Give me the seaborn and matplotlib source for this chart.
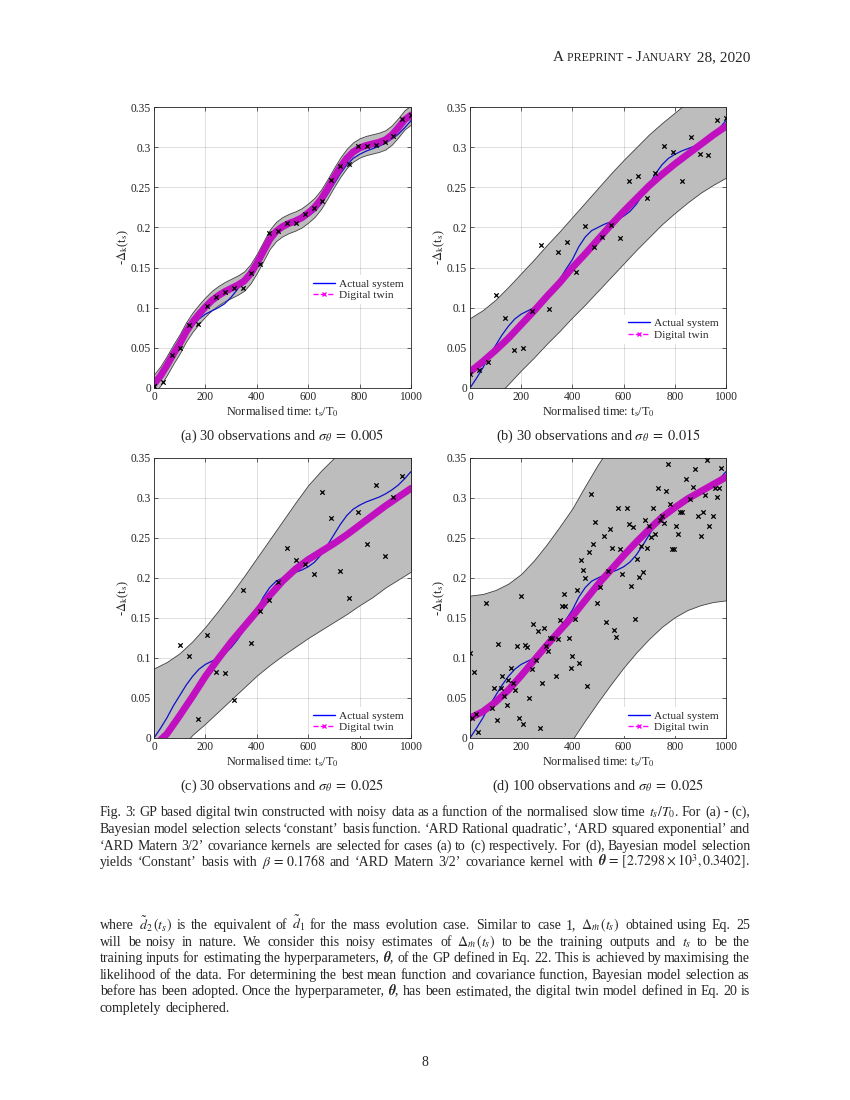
import matplotlib
matplotlib.use("Agg")
import matplotlib.pyplot as plt
import numpy as np
import seaborn as sns
from matplotlib.lines import Line2D

# ── data ──────────────────────────────────────────────
T_FINE = list(range(0, 1001, 25))
T_COARSE = list(range(0, 1001, 50))

ACTUAL = [0.000, 0.012, 0.025, 0.040, 0.053, 0.066, 0.077, 0.086, 0.092, 0.096,
          0.100, 0.105, 0.113, 0.123, 0.135, 0.148, 0.160, 0.176, 0.188, 0.196,
          0.200, 0.204, 0.207, 0.210, 0.214, 0.220, 0.229, 0.241, 0.254, 0.267,
          0.278, 0.286, 0.291, 0.295, 0.298, 0.301, 0.305, 0.310, 0.316, 0.324, 0.333]

TWIN_A = [0.005, 0.015, 0.028, 0.042, 0.055, 0.070, 0.082, 0.092, 0.101, 0.109,
          0.115, 0.120, 0.124, 0.128, 0.133, 0.142, 0.155, 0.170, 0.185, 0.195,
          0.201, 0.205, 0.208, 0.212, 0.218, 0.225, 0.235, 0.248, 0.262, 0.275,
          0.286, 0.294, 0.299, 0.302, 0.304, 0.306, 0.309, 0.315, 0.324, 0.334, 0.340]
BAND_A_HALF = 0.012

TWIN_B = [0.020, 0.033, 0.047, 0.062, 0.079, 0.096, 0.114, 0.131, 0.150, 0.167, 0.185,
          0.203, 0.220, 0.236, 0.252, 0.266, 0.279, 0.291, 0.303, 0.315, 0.326]
UPPER_B = [0.087, 0.097, 0.110, 0.126, 0.143, 0.160, 0.178, 0.195, 0.213, 0.231, 0.249,
           0.267, 0.284, 0.300, 0.316, 0.330, 0.343, 0.356, 0.368, 0.379, 0.390]
LOWER_B = [-0.045, -0.029, -0.012, 0.005, 0.022, 0.038, 0.055, 0.071, 0.088, 0.104, 0.121,
           0.138, 0.155, 0.172, 0.188, 0.204, 0.218, 0.231, 0.243, 0.253, 0.262]

TWIN_C = [-0.010, 0.005, 0.028, 0.052, 0.077, 0.099, 0.120, 0.139, 0.158, 0.178, 0.196,
          0.211, 0.223, 0.233, 0.243, 0.254, 0.266, 0.278, 0.290, 0.301, 0.312]
UPPER_C = [0.087, 0.095, 0.106, 0.121, 0.139, 0.159, 0.180, 0.202, 0.225, 0.248, 0.271,
           0.294, 0.316, 0.334, 0.350, 0.364, 0.377, 0.389, 0.399, 0.408, 0.415]
LOWER_C = [-0.060, -0.035, -0.013, 0.004, 0.018, 0.033, 0.048, 0.063, 0.078, 0.091, 0.103,
           0.114, 0.125, 0.135, 0.145, 0.155, 0.166, 0.176, 0.188, 0.198, 0.208]

TWIN_D = [0.025, 0.033, 0.045, 0.060, 0.078, 0.097, 0.116, 0.134, 0.152, 0.172, 0.192,
          0.210, 0.228, 0.245, 0.261, 0.276, 0.288, 0.299, 0.308, 0.317, 0.326]
UPPER_D = [0.178, 0.180, 0.185, 0.193, 0.205, 0.222, 0.242, 0.264, 0.287, 0.315, 0.342,
           0.366, 0.386, 0.402, 0.417, 0.430, 0.442, 0.452, 0.461, 0.469, 0.476]
LOWER_D = [-0.130, -0.128, -0.122, -0.110, -0.093, -0.072, -0.050, -0.026, -0.002, 0.022, 0.045,
           0.067, 0.088, 0.107, 0.124, 0.139, 0.151, 0.160, 0.166, 0.170, 0.172]

OBS_T30 = [0, 34, 69, 103, 138, 172, 207, 241, 276, 310, 345, 379, 414, 448, 483,
           517, 552, 586, 621, 655, 690, 724, 759, 793, 828, 862, 897, 931, 966, 1000]
OBS_A = [0.003, 0.008, 0.041, 0.050, 0.079, 0.080, 0.102, 0.113, 0.120, 0.125,
         0.125, 0.143, 0.154, 0.193, 0.196, 0.206, 0.206, 0.217, 0.224, 0.233,
         0.259, 0.276, 0.279, 0.301, 0.302, 0.303, 0.307, 0.314, 0.335, 0.340]
OBS_B = [0.018, 0.022, 0.033, 0.116, 0.087, 0.047, 0.050, 0.096, 0.178, 0.098,
         0.169, 0.182, 0.145, 0.202, 0.176, 0.188, 0.203, 0.187, 0.258, 0.264,
         0.237, 0.268, 0.302, 0.294, 0.258, 0.313, 0.291, 0.290, 0.334, 0.336]
OBS_C_T = OBS_T30[3:29]
OBS_C = [0.116, 0.103, 0.024, 0.129, 0.082, 0.081, 0.047, 0.185, 0.119, 0.159,
         0.172, 0.195, 0.237, 0.223, 0.217, 0.205, 0.307, 0.275, 0.209, 0.175,
         0.282, 0.242, 0.316, 0.228, 0.301, 0.328]

OBS_D_T = [0, 9, 16, 23, 33, 62, 85, 95, 104, 111, 120, 126, 134, 143, 150, 159, 167, 176,
           182, 191, 199, 208, 215, 224, 230, 241, 247, 257, 264, 272, 280, 288, 296, 305,
           312, 322, 337, 344, 353, 361, 368, 371, 385, 393, 400, 410, 418, 426, 434, 440,
           449, 458, 466, 474, 482, 490, 497, 507, 522, 531, 539, 547, 555, 563, 572, 579,
           587, 595, 612, 620, 628, 635, 645, 652, 660, 669, 677, 685, 693, 700, 708, 716,
           724, 733, 741, 750, 758, 767, 773, 781, 789, 797, 805, 812, 822, 828, 844, 859,
           870, 878, 892, 901, 909, 917, 927, 935, 949, 957, 966, 974, 982]
OBS_D = [0.106, 0.025, 0.082, 0.030, 0.007, 0.169, 0.038, 0.063, 0.022, 0.118, 0.063, 0.077,
         0.052, 0.041, 0.073, 0.088, 0.069, 0.060, 0.115, 0.025, 0.178, 0.018, 0.116, 0.114,
         0.050, 0.086, 0.143, 0.098, 0.134, 0.013, 0.069, 0.137, 0.115, 0.109, 0.125, 0.125,
         0.077, 0.124, 0.147, 0.165, 0.180, 0.165, 0.125, 0.087, 0.102, 0.149, 0.185, 0.094,
         0.223, 0.210, 0.200, 0.065, 0.233, 0.305, 0.242, 0.270, 0.169, 0.189, 0.252, 0.145,
         0.209, 0.261, 0.238, 0.135, 0.126, 0.287, 0.236, 0.205, 0.287, 0.267, 0.190, 0.264,
         0.149, 0.224, 0.201, 0.240, 0.208, 0.273, 0.237, 0.265, 0.251, 0.287, 0.255, 0.312,
         0.273, 0.277, 0.269, 0.309, 0.343, 0.293, 0.236, 0.236, 0.265, 0.255, 0.282, 0.282,
         0.324, 0.299, 0.314, 0.336, 0.277, 0.252, 0.282, 0.304, 0.347, 0.265, 0.278, 0.313,
         0.301, 0.313, 0.337]

X_TICKS = [0, 200, 400, 600, 800, 1000]
Y_TICKS = [0, 0.05, 0.1, 0.15, 0.2, 0.25, 0.3, 0.35]
Y_TICK_LABELS = ["0", "0.05", "0.1", "0.15", "0.2", "0.25", "0.3", "0.35"]
SUBCAPTIONS = [r"(a) 30 observations and $\sigma_\theta\;=\;0.005$",
               r"(b) 30 observations and $\sigma_\theta\;=\;0.015$",
               r"(c) 30 observations and $\sigma_\theta\;=\;0.025$",
               r"(d) 100 observations and $\sigma_\theta\;=\;0.025$"]

CAPTION = [
    r"Fig. 3: GP based digital twin constructed with noisy data as a function of the normalised slow time $t_s/T_0$. For (a) - (c),",
    "Bayesian model selection selects ‘constant’ basis function. ‘ARD Rational quadratic’, ‘ARD squared exponential’ and",
    "‘ARD Matern 3/2’ covariance kernels are selected for cases (a) to (c) respectively. For (d), Bayesian model selection",
    "yields ‘Constant’ basis with $\\beta\\,=\\,0.1768$ and ‘ARD Matern 3/2’ covariance kernel with "
    "$\\boldsymbol{\\theta}\\,=\\,[2.7298\\times10^3,0.3402]$.",
]
BODY = [
    r"where $\tilde{d}_2\,(t_s)$ is the equivalent of $\tilde{d}_1$ for the mass evolution case. Similar to case 1, $\Delta_{\dot{m}}\,(t_s)$ obtained using Eq. 25",
    r"will be noisy in nature. We consider this noisy estimates of $\Delta_{\dot{m}}\,(t_s)$ to be the training outputs and $t_s$ to be the",
    r"training inputs for estimating the hyperparameters, $\boldsymbol{\theta}$, of the GP defined in Eq. 22. This is achieved by maximising the",
    "likelihood of the data. For determining the best mean function and covariance function, Bayesian model selection as",
    r"before has been adopted. Once the hyperparameter, $\boldsymbol{\theta}$, has been estimated, the digital twin model defined in Eq. 20 is",
    "completely deciphered.",
]
CAPTION_Y = [816, 833, 850, 866]
BODY_Y = [929, 946, 962, 979, 995, 1012]

# ── styling ────────────────────────────
sns.set_style("ticks")
plt.rcParams["font.family"] = ["Liberation Serif", "DejaVu Serif"]
plt.rcParams["mathtext.fontset"] = "stix"
plt.rcParams["axes.unicode_minus"] = False

BLUE = "#1010c8"
MAGENTA = "#c010c0"
BAND_GRAY = "#bdbdbd"
INK = "#262626"

W, H = 850, 1100
fig = plt.figure(figsize=(W / 100, H / 100), dpi=100)
fig.patch.set_facecolor("white")


def px_axes(left, top, right, bottom):
    return fig.add_axes([left / W, 1 - bottom / H, (right - left) / W, (bottom - top) / H])


def draw_panel(ax, twin_t, twin, lower_t, lower, upper, obs_t, obs, legend_y):
    ax.fill_between(lower_t, lower, upper, facecolor=BAND_GRAY, edgecolor="#404040",
                    lw=0.6, zorder=1)
    sns.lineplot(x=T_FINE, y=ACTUAL, ax=ax, color=BLUE, lw=0.9, zorder=2)
    sns.lineplot(x=twin_t, y=twin, ax=ax, color=MAGENTA, lw=5, zorder=2.5)
    sns.scatterplot(x=obs_t, y=obs, ax=ax, marker="x", color="black", s=10,
                    linewidth=0.9, zorder=3)

    ax.set_xlim(0, 1000)
    ax.set_ylim(0, 0.35)
    ax.set_xticks(X_TICKS)
    ax.set_yticks(Y_TICKS)
    ax.set_yticklabels(Y_TICK_LABELS)
    ax.grid(True, color="black", alpha=0.15, lw=0.6)
    ax.tick_params(direction="in", top=True, right=True, length=3, width=0.5,
                   labelsize=8.3, pad=2, colors=INK)
    for s in ax.spines.values():
        s.set_linewidth(0.6)
        s.set_color(INK)
    ax.set_xlabel(r"Normalised time: t$_{\rm s}$/T$_{\rm 0}$", fontsize=8.8, labelpad=1, color=INK)
    ax.set_ylabel(r"-$\Delta_{\rm k}$(t$_{\rm s}$)", fontsize=9, labelpad=0, color=INK)

    handles = [Line2D([], [], color="#0000ff", lw=1),
               Line2D([], [], color="#ff00ff", lw=1, ls="--", marker="x", ms=3)]
    leg = ax.legend(handles, ["Actual system", "Digital twin"], loc="lower right",
                    bbox_to_anchor=(0.995, legend_y), fontsize=8.2, frameon=True,
                    fancybox=False, framealpha=1, facecolor="white", edgecolor="white",
                    borderpad=0.35, handlelength=2.0, handletextpad=0.3,
                    labelspacing=0.1, borderaxespad=0.2)
    leg.get_frame().set_linewidth(0)
    leg.set_zorder(5)


ax_a = px_axes(154, 107, 411, 388)
ax_b = px_axes(470, 107, 726, 388)
ax_c = px_axes(154, 458, 411, 738)
ax_d = px_axes(470, 458, 726, 738)

twin_a = np.array(TWIN_A)
draw_panel(ax_a, T_FINE, TWIN_A, T_FINE, twin_a - BAND_A_HALF, twin_a + BAND_A_HALF,
           OBS_T30, OBS_A, 0.29)
draw_panel(ax_b, T_COARSE, TWIN_B, T_COARSE, LOWER_B, UPPER_B, OBS_T30, OBS_B, 0.15)
draw_panel(ax_c, T_COARSE, TWIN_C, T_COARSE, LOWER_C, UPPER_C, OBS_C_T, OBS_C, 0.0)
draw_panel(ax_d, T_COARSE, TWIN_D, T_COARSE, LOWER_D, UPPER_D, OBS_D_T, OBS_D, 0.0)

for (cx, cy), sub in zip([(282, 436), (598, 436), (282, 786), (598, 786)], SUBCAPTIONS):
    fig.text(cx / W, 1 - cy / H, sub, fontsize=10.4, ha="center", va="center")

# ── page text (justified word by word) ────────────────────────────
renderer = fig.canvas.get_renderer()


def place_line(y, line, justify=True, x0=100, x1=750, size=10):
    words = line.split(" ")
    items = [fig.text(0, 1 - y / H, w, fontsize=size, va="baseline", ha="left") for w in words]
    widths = [t.get_window_extent(renderer=renderer).width for t in items]
    gap = (x1 - x0 - sum(widths)) / (len(items) - 1) if justify else 3.5
    x = x0
    for t, w in zip(items, widths):
        t.set_x(round(x) / W)
        x += w + gap


for y, line in zip(CAPTION_Y, CAPTION):
    place_line(y, line)
for i, (y, line) in enumerate(zip(BODY_Y, BODY)):
    place_line(y, line, justify=i < len(BODY) - 1)

# header in small caps
pieces = [("A", 11), (" PREPRINT", 8.6), (" - J", 11), ("ANUARY", 8.6), (" 28, 2020", 11)]
texts = [fig.text(0, 1 - 61 / H, p, fontsize=s, va="baseline") for p, s in pieces]
widths = [t.get_window_extent(renderer=renderer).width for t in texts]
x = 750 - sum(widths)
for t, w in zip(texts, widths):
    t.set_x(x / W)
    x += w

fig.text(425 / W, 1 - 1063 / H, "8", fontsize=10, ha="center", va="center")

fig.savefig("out.png", dpi=100, facecolor="white")
